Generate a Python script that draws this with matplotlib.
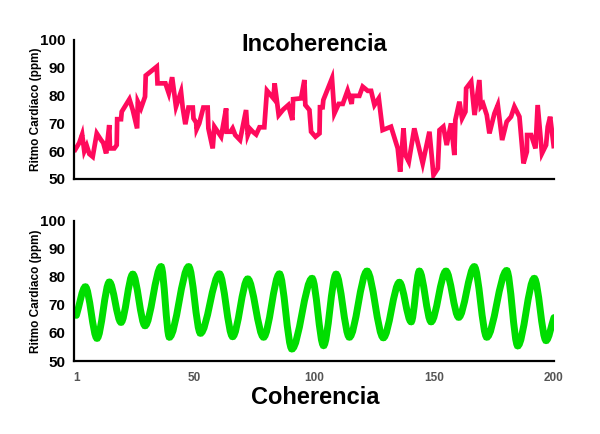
import matplotlib
matplotlib.use('Agg')
import matplotlib.pyplot as plt
from matplotlib.path import Path
from matplotlib.patches import PathPatch

plt.rcParams['font.family'] = ['Liberation Sans', 'DejaVu Sans']

# incoherencia: irregular heart rate, vertices
x_inc = [0, 2.2, 3.4, 4.3, 5.3, 6.4, 7.8, 9.5, 11.3, 12.2, 13.4, 14.2, 14.7, 15.0,
         16.8, 17.8, 18.0, 19.6, 19.9, 23.1, 24.5, 26.3, 26.6, 27.9, 29.6, 29.9,
         34.5, 34.8, 38.1, 39.5, 40.9, 42.5, 44.6, 45.3, 46.4, 47.7, 49.5, 49.8,
         50.9, 51.1, 52.2, 53.9, 55.7, 56.0, 57.8, 58.5, 61.3, 63.4, 63.6, 65.2,
         66.1, 67.2, 69.2, 71.7, 72.4, 73.4, 74.5, 75.9, 77.3, 79.3, 80.4, 83.1,
         83.6, 85.3, 87.2, 89.3, 91.0, 91.3, 94.6, 96.0, 96.4, 98.1, 98.8, 100.6,
         102.3, 102.5, 103.6, 103.9, 107.5, 108.5, 110.3, 112.0, 114.0, 115.7,
         116.0, 118.9, 120.3, 122.4, 123.8, 125.2, 127.0, 128.6, 132.1, 134.9,
         135.9, 137.3, 138.1, 139.5, 141.8, 145.3, 148.1, 149.8, 151.6, 152.3,
         153.9, 155.3, 157.1, 158.5, 158.9, 160.6, 161.7, 163.1, 163.4, 165.5,
         166.9, 168.9, 169.5, 170.5, 172.0, 173.1, 175.2, 176.6, 178.4, 180.3,
         182.1, 183.5, 185.6, 187.3, 188.7, 188.8, 190.5, 192.3, 193.2, 195.0,
         196.7, 197.4, 198.4, 200.0]
y_inc = [59.8, 63, 66, 60, 62, 59, 58, 66.4, 64, 63, 59.2, 65.6, 69.4, 61,
         61, 62.2, 71.5, 71.5, 74.2, 78.7, 74.8, 68.2, 77.8, 75.4, 79.6, 87.2,
         90.4, 84.4, 84.4, 80.8, 86.6, 76, 81.4, 75.7, 69.7, 75.7, 75.7, 71.8,
         70.3, 67.9, 70, 75.7, 75.7, 68.2, 61, 68.8, 65.2, 75.4, 67, 67,
         68.2, 65.8, 64, 74.8, 65.8, 68, 67, 66, 68.6, 68.6, 81.8, 79,
         84.4, 73, 75, 76.6, 71.2, 78.7, 79, 85.6, 76.6, 74.8, 67, 65.2,
         66.4, 75.8, 75.8, 78.4, 86.2, 73.6, 77, 77, 81.8, 77,
         79.9, 79.9, 83.2, 81.7, 81.7, 76.6, 79, 67.6, 68.8, 61,
         52.6, 68.2, 58.6, 56.2, 68.2, 55.6, 67, 51.4, 53.8, 67.6,
         68.8, 62.2, 70, 58.6, 71.2, 77.8, 71.8, 74.2, 82.6, 85,
         73, 85.6, 76, 77, 73, 66.4, 73.6, 76.6, 64, 70.6,
         72.4, 76, 72.4, 55.6, 59.8, 65.8, 65.8, 61, 76.6, 59.2,
         62.2, 68.8, 72.4, 61]

# coherencia: smooth oscillation, start, peaks/troughs and end
x_coh = [1, 4.75, 9.6, 14.75, 19.6, 24.5, 29.6, 36.3, 39.75, 47.8, 52.7, 60.6,
         66.1, 72.4, 79, 85.6, 90.8, 99.2, 104, 109.2, 114.75, 122.1, 128.9,
         135.6, 140.5, 143.9, 148.8, 155, 160.3, 166.8, 172, 180.3, 184.9,
         191.8, 196.7, 200]
y_coh = [66.3, 76.5, 58.1, 78.2, 63.8, 81, 62.6, 83.7, 58.5, 83.7, 59.9, 81.1,
         58.7, 79.3, 58.5, 81.1, 54.3, 79.5, 55.5, 81, 58.5, 82.1, 58.3,
         78.1, 64, 82.1, 64, 82.1, 65.6, 83.7, 58.5, 82.3, 55.4,
         79.5, 57.3, 65.5]

y_ticks = [50, 60, 70, 80, 90, 100]
x_ticks = [1, 50, 100, 150, 200]

pink = '#ff0a5c'
green = '#00dd00'

fig = plt.figure(figsize=(6, 4.34), dpi=100)
ax1 = fig.add_axes([0.1233, 0.5876, 0.8, 0.3203])
ax2 = fig.add_axes([0.1233, 0.1682, 0.8, 0.3226])

ax1.plot(x_inc, y_inc, color=pink, lw=3.4, solid_joinstyle='miter',
         solid_capstyle='butt')

# smooth curve through the extrema with cubic bezier segments
verts = [(x_coh[0], y_coh[0])]
codes = [Path.MOVETO]
n = len(x_coh)
for i in range(n - 1):
    x0, y0, x1, y1 = x_coh[i], y_coh[i], x_coh[i + 1], y_coh[i + 1]
    dx = x1 - x0
    if i == 0:
        c1 = (x0 + dx / 3, y0 + (y1 - y0) / 3)
    else:
        c1 = (x0 + dx / 3, y0)
    if i == n - 2:
        c2 = (x1 - dx / 3, y1 - (y1 - y0) / 3)
    else:
        c2 = (x1 - dx / 3, y1)
    verts += [c1, c2, (x1, y1)]
    codes += [Path.CURVE4] * 3
ax2.add_patch(PathPatch(Path(verts, codes), fill=False, edgecolor=green,
                        lw=5, capstyle='round'))

for ax in (ax1, ax2):
    ax.set_xlim(0, 200)
    ax.set_ylim(50, 100)
    ax.spines['top'].set_visible(False)
    ax.spines['right'].set_visible(False)
    ax.spines['left'].set_linewidth(1.6)
    ax.spines['bottom'].set_linewidth(1.6)
    ax.set_yticks(y_ticks)
    ax.set_yticklabels([str(v) for v in y_ticks], fontsize=11, fontweight='bold')
    ax.tick_params(length=0, pad=6)
    ax.set_ylabel('Ritmo Cardíaco (ppm)', fontsize=8.5, fontweight='bold',
                  labelpad=-1)

ax1.set_xticks([])
ax2.set_xticks(x_ticks)
ax2.set_xticklabels([str(v) for v in x_ticks], fontsize=8.5, fontweight='bold',
                    color='#555555')
ax2.tick_params(axis='x', pad=8)

ax1.text(0.5, 0.965, 'Incoherencia', transform=ax1.transAxes, ha='center',
         va='center', fontsize=17, fontweight='bold')
fig.text(0.525, 0.085, 'Coherencia', ha='center', va='center', fontsize=17,
         fontweight='bold')

fig.savefig('out.png', dpi=100)
